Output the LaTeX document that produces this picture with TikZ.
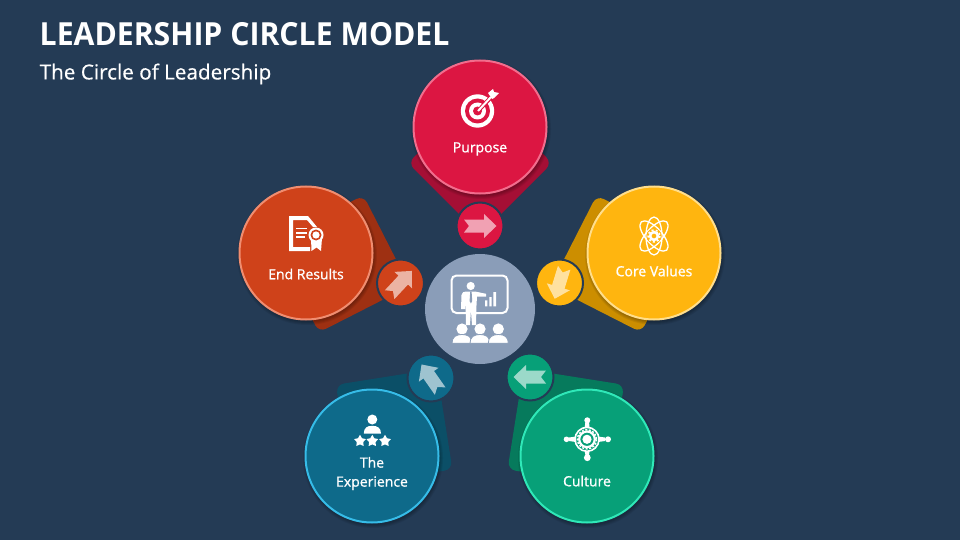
\documentclass[tikz,border=0pt]{standalone}
\usepackage{fontspec}
\setmainfont{Open Sans}
\newfontfamily\labfont[FakeBold=1]{Open Sans}
\newfontfamily\subfont[FakeBold=0.5]{Open Sans}
\newfontfamily\titlefont[FakeStretch=0.95]{Open Sans}
\usetikzlibrary{shapes.geometric}
\definecolor{bgc}{HTML}{243B55}
\definecolor{redm}{HTML}{DC1642}\definecolor{rede}{HTML}{F26D8D}\definecolor{redb}{HTML}{A50F35}
\definecolor{yelm}{HTML}{FFB50F}\definecolor{yele}{HTML}{FFDE8C}\definecolor{yelb}{HTML}{CC8E00}
\definecolor{grnm}{HTML}{07A078}\definecolor{grne}{HTML}{2FE8B8}\definecolor{grnb}{HTML}{067A5C}
\definecolor{blum}{HTML}{0E6A8A}\definecolor{blue2}{HTML}{36BCE8}\definecolor{blub}{HTML}{0B4F67}
\definecolor{orgm}{HTML}{CF421A}\definecolor{orge}{HTML}{F08D70}\definecolor{orgb}{HTML}{9E3012}
\definecolor{midc}{HTML}{8A9DB8}
\tikzset{
  maincirc/.style={circle,inner sep=0pt,outer sep=0pt,minimum size=133pt,line width=2pt},
  smallcirc/.style={circle,inner sep=0pt,outer sep=0pt,minimum size=47pt,draw=bgc,line width=2pt},
  lab/.style={text=white,inner sep=0pt,font=\labfont\fontsize{14}{18}\selectfont,align=center},
}
\newcommand{\petal}[2]{%
  \fill[#2,rounded corners=8pt,rotate around={-#1:(480,309)}] (480,91) -- (552,163) -- (480,235) -- (408,163) -- cycle;
}
\newcommand{\softshadow}[3]{%
  \foreach \d in {0,1,2,3}{\fill[black,opacity=.07] (#1+1,#2+2) circle[radius=#3+\d];}
}
\newcommand{\blockarrow}[3]{%
  \fill[white,opacity=.6,shift={(#1,#2)},rotate=-#3] (16.5,0) -- (4,12) -- (4,6.5) -- (-16,6.5) -- (-11,0) -- (-16,-6.5) -- (4,-6.5) -- (4,-12) -- cycle;
}
\newcommand{\startshape}[3]{%
  \fill[white,shift={(#1,#2)}] (270:#3)
   \foreach \a in {1,...,4}{ -- (270+72*\a-36:#3*.55) -- (270+72*\a:#3)} -- (270+324:#3*.55) -- cycle;
}
\begin{document}
\begin{tikzpicture}[x=1pt,y=-1pt]
\useasboundingbox (0,0) rectangle (960,540);
\fill[bgc] (0,0) rectangle (960,540);
\node[anchor=west,inner sep=0pt,text=white,font=\titlefont\bfseries\fontsize{31.8}{38}\selectfont] (title) at (39.5,34.5) {LEADERSHIP CIRCLE MODEL};
\node[anchor=west,inner sep=0pt,text=white,font=\subfont\fontsize{20.7}{25}\selectfont] (subtitle) at (39.5,74) {The Circle of Leadership};

% petals
\petal{0}{redb}
\petal{72}{yelb}
\petal{144}{grnb}
\petal{216}{blub}
\petal{288}{orgb}

% shadows
\softshadow{480}{127}{67}
\softshadow{654}{253}{67}
\softshadow{587}{456}{67}
\softshadow{372}{456}{67}
\softshadow{306}{253}{67}

% main circles
\node[maincirc,fill=redm,draw=rede] (purpose) at (480,127) {};
\node[maincirc,fill=yelm,draw=yele] (core) at (654,253) {};
\node[maincirc,fill=grnm,draw=grne] (culture) at (587,456) {};
\node[maincirc,fill=blum,draw=blue2] (exper) at (372,456) {};
\node[maincirc,fill=orgm,draw=orge] (endres) at (306,253) {};
\node[circle,inner sep=0pt,minimum size=110pt,fill=midc] (centre) at (480,309) {};

% small circles
\node[smallcirc,fill=redm] (s1) at (480,226) {};
\node[smallcirc,fill=yelm] (s2) at (559.5,283) {};
\node[smallcirc,fill=grnm] (s3) at (530,377) {};
\node[smallcirc,fill=blum] (s4) at (431,378) {};
\node[smallcirc,fill=orgm] (s5) at (400.5,283) {};
\blockarrow{480}{226}{0}
\blockarrow{559.5}{283}{107}
\blockarrow{530}{377}{180}
\blockarrow{431}{378}{235}
\blockarrow{400.5}{283}{-47}

% labels
\node[lab] (l1) at (480,149) {Purpose};
\node[lab] (l2) at (654,271) {Core Values};
\node[lab] (l3) at (587,481) {Culture};
\node[lab] (l4) at (372,473.5) {The\\[1pt]Experience};
\node[lab] (l5) at (306,274) {End Results};

% target icon
\fill[white] (477.5,111) circle[radius=16.7];
\fill[redm] (477.5,111) circle[radius=12.5];
\fill[white] (477.5,111) circle[radius=8.5];
\fill[redm] (477.5,111) circle[radius=4.5];
\draw[redm,line width=4pt] (478,111) -- (496,92);
\draw[white,line width=2pt] (478,111) -- (491,97);
\fill[white] (488,93) -- (493,89) -- (494,92) -- (499,93) -- (494,98) -- (492,99) -- cycle;

% certificate icon
\fill[white] (289,216) -- (308,216) -- (317,227) -- (313,227) -- (307,220) -- (293,220) -- (293,247) -- (310,247) -- (310,251) -- (289,251) -- cycle;
\draw[white,line width=1.3pt] (296,228.5) -- (307,228.5) (296,233) -- (307,233) (296,237) -- (305,237);
\fill[white] (311,238) -- (322,238) -- (321,251) -- (316.5,247.5) -- (311.5,251) -- cycle;
\fill[white] (316,235) circle[radius=7.5];
\fill[orgm] (316,235) circle[radius=5.5];
\fill[white] (316,235) circle[radius=3.6];

% atom icon
\draw[white,line width=1.3pt] (654,236) ellipse[x radius=8,y radius=19];
\draw[white,line width=1.3pt,rotate around={42:(654,236)}] (654,236) ellipse[x radius=8,y radius=19];
\draw[white,line width=1.3pt,rotate around={-42:(654,236)}] (654,236) ellipse[x radius=8,y radius=19];
\fill[yelm] (654,236) circle[radius=7.5];
\draw[white,line width=2.6pt] (654,236) circle[radius=3.9];
\draw[white,line width=1.6pt,dash pattern=on 2pt off 2.2pt] (654,236) circle[radius=5.9];

% culture icon
\fill[white] (587,439.3) circle[radius=4.6];
\draw[white,line width=2.2pt] (587,439.3) circle[radius=7.8];
\draw[white,line width=1.4pt,dash pattern=on 2pt off 1.6pt] (587,439.3) circle[radius=9.6];
\draw[white,line width=1.6pt] (587,439.3) circle[radius=12];
\fill[white] (587.3,420.3) circle[radius=3] (587.3,457.7) circle[radius=3.4] (566.5,439.3) circle[radius=2.8] (608,439.3) circle[radius=3];
\fill[white] (569,437.5) -- (576,436.5) -- (576,442) -- (569,441) -- cycle
  (605,437.5) -- (598,436.5) -- (598,442) -- (605,441) -- cycle
  (585.4,422) -- (584.6,428) -- (589.6,428) -- (589,422) -- cycle
  (585.4,455) -- (584.6,451) -- (589.6,451) -- (589,455) -- cycle;

% experience icon
\fill[white] (372.3,419.5) circle[radius=5];
\fill[white] (363.8,433.5) .. controls (363.8,428) and (367,425.8) .. (372.3,425.8) .. controls (377.6,425.8) and (381,428) .. (381,433.5) -- cycle;
\startshape{360}{441}{6.2}
\startshape{372.3}{441}{6.2}
\startshape{385}{441}{6.2}

% presenter icon
\draw[white,line width=2pt,rounded corners=5pt] (467,313) -- (451.5,313) -- (451.5,275.5) -- (507.5,275.5) -- (507.5,313) -- (476,313);
\fill[white] (470.7,286) circle[radius=4.1];
\fill[white] (461.5,295) .. controls (461.5,292.5) and (464,291.5) .. (466,291.5) -- (475,291.5) -- (486,293.8) -- (486,296.5) -- (477,296.5) -- (476.5,305) -- (476,325) -- (472,325) -- (470.9,310) -- (470,325) -- (466,325) -- (465.5,303) -- (465,309) -- (461,309) -- cycle;
\fill[midc] (470.2,291.5) -- (471.6,291.5) -- (472.2,301) -- (470.9,303.5) -- (469.6,301) -- cycle;
\fill[white] (485,300.3) rectangle (487.4,306.3) (489.3,297) rectangle (491.7,306.3) (493.4,292) rectangle (496,306.3);
\foreach \x in {462,480,498.3}{
  \fill[white] (\x,329) circle[radius=5.6];
  \fill[white,draw=midc,line width=.8pt] (\x-10,343.2) .. controls (\x-10,337) and (\x-6,334.5) .. (\x,334.5) .. controls (\x+6,334.5) and (\x+10,337) .. (\x+10,343.2) -- cycle;
}
\end{tikzpicture}
\end{document}
